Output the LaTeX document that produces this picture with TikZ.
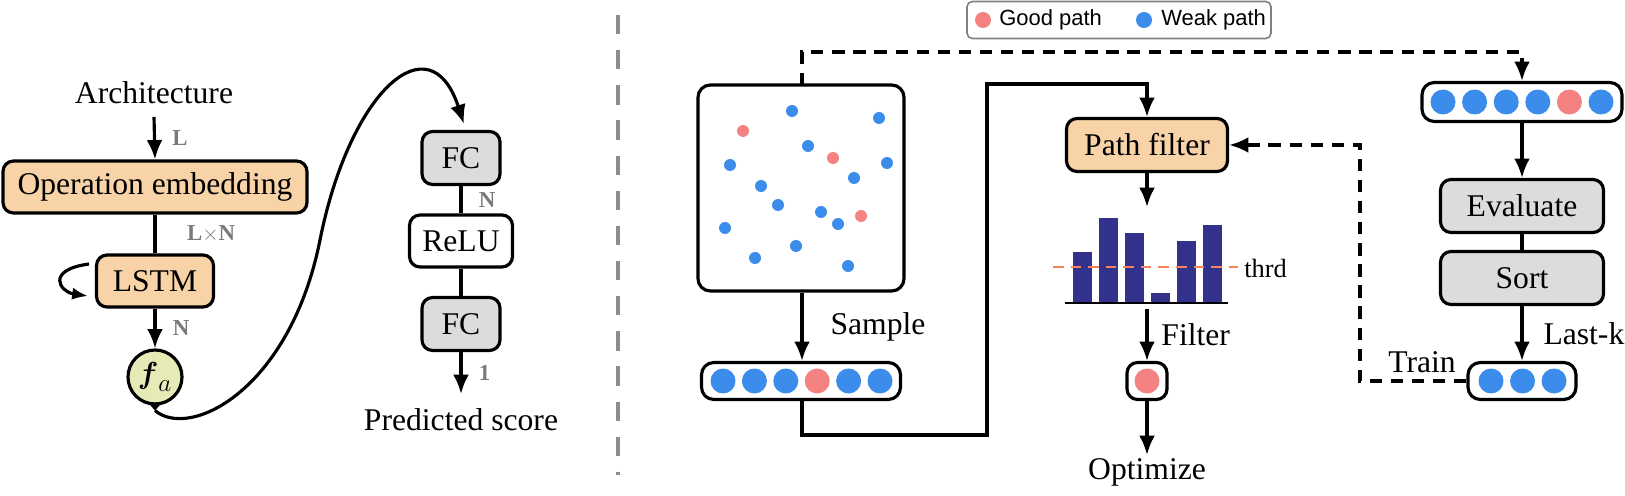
\documentclass[tikz,border=0pt]{standalone}
\usepackage{amsmath}
\usepackage{fontspec}
\setmainfont{Liberation Serif}
\newfontfamily\legendfont{Liberation Sans}
\usetikzlibrary{arrows.meta}
\definecolor{boxorange}{HTML}{F8D3A7}
\definecolor{boxgray}{HTML}{DCDCDC}
\definecolor{fagreen}{HTML}{E6EAB6}
\definecolor{goodred}{HTML}{F58282}
\definecolor{weakblue}{HTML}{3C8DEB}
\definecolor{barblue}{HTML}{32328C}
\definecolor{lblgray}{HTML}{7A7A7A}
\tikzset{
  blk/.style={draw, line width=1.8pt, rounded corners=6pt, font=\fontsize{18}{21}\selectfont, inner sep=0pt},
  dimlbl/.style={font=\fontsize{13}{15}\selectfont\bfseries, text=lblgray},
  txt/.style={font=\fontsize{18}{21}\selectfont},
  arr/.style={line width=1.8pt, -{Latex[length=11pt,width=9pt]}},
  ln/.style={line width=1.8pt},
  dsh/.style={line width=1.8pt, dash pattern=on 7pt off 5pt},
}
\begin{document}
\begin{tikzpicture}[x=0.02cm, y=-0.02cm]
\useasboundingbox (0,0) rectangle (1625,496);

    % Left: predictor
    \node[txt] (arch) at (154,93) {Architecture};
    \node[blk, fill=boxorange, minimum width=304*0.02cm, minimum height=52*0.02cm] (emb) at (155,187) {Operation embedding};
    \node[blk, fill=boxorange, minimum width=117*0.02cm, minimum height=52*0.02cm] (lstm) at (155,281) {LSTM};
    \node[draw, line width=1.8pt, circle, fill=fagreen, minimum size=54*0.02cm, inner sep=0pt, font=\fontsize{19}{21}\selectfont] (fa) at (155,377) {$\boldsymbol{f}_a$};
    \fill (fa.south) ++(-7,-3) -- ++(14,0) -- ++(-7,8) coordinate (pin) -- cycle;
    \draw[arr] (154,117) -- (emb.north) node[midway, right=6pt, dimlbl] {L};
    \draw[ln] (emb.south) -- (lstm.north) node[midway, right=14pt, dimlbl] {L$\times$N};
    \draw[arr] (lstm.south) -- (fa.north) node[midway, right=6pt, dimlbl] {N};
    \draw[line width=1.8pt, -{Latex[length=9pt,width=7pt]}] (89,264) .. controls (45,270) and (60,292) .. (88,296);

    \node[blk, fill=boxgray, minimum width=78*0.02cm, minimum height=53*0.02cm] (fc1) at (461,158) {FC};
    \node[blk, fill=white, minimum width=103*0.02cm, minimum height=52*0.02cm] (relu) at (461,241) {ReLU};
    \node[blk, fill=boxgray, minimum width=78*0.02cm, minimum height=53*0.02cm] (fc2) at (461,324) {FC};
    \node[txt] (score) at (461,420) {Predicted score};
    \draw[ln] (fc1.south) -- (relu.north) node[midway, right=6pt, dimlbl] {N};
    \draw[ln] (relu.south) -- (fc2.north);
    \draw[arr] (fc2.south) -- (461,394) node[midway, right=6pt, dimlbl] {1};
    \draw[arr] (pin) .. controls (190,440) and (290,390) .. (320,240)
                    .. controls (350,90) and (430,20) .. (464,124);

    % Separator
    \draw[line width=2pt, gray!90, dash pattern=on 11pt off 9pt] (618,15) -- (618,475);

    % Legend
    \node[draw=gray, rounded corners=3pt, line width=0.9pt, minimum width=304*0.02cm, minimum height=37*0.02cm] (legend) at (1119,20) {};
    \fill[goodred] (983,20) circle (8);
    \node[anchor=west, inner sep=0pt, font=\legendfont\fontsize{12.5}{14}\selectfont] (good) at (999,20) {Good path};
    \fill[weakblue] (1144,20) circle (8);
    \node[anchor=west, inner sep=0pt, font=\legendfont\fontsize{12.5}{14}\selectfont] (weak) at (1161,20) {Weak path};

    % Sample space
    \node[draw, line width=1.8pt, rounded corners=7pt, minimum width=206*0.02cm, minimum height=206*0.02cm] (space) at (801,188) {};
    \foreach \px/\py in {792/111,879/118,808/146,730/165,887/163,854/178,761/186,778/205,821/212,838/224,725/228,796/246,755/258,848/266}
        \fill[weakblue] (\px,\py) circle (6);
    \foreach \px/\py in {743/131,833/158,861/216}
        \fill[goodred] (\px,\py) circle (6);

    % Sampled paths
    \node[draw, line width=1.8pt, rounded corners=7pt, minimum width=199*0.02cm, minimum height=37*0.02cm] (sampled) at (801,381) {};
    \foreach \i/\c in {0/weakblue,1/weakblue,2/weakblue,3/goodred,4/weakblue,5/weakblue}
        \fill[\c] (723+\i*31.4,381) circle (12.5);
    \draw[arr] (space.south -| 802,0) -- (sampled.north -| 802,0) node[midway, right=12pt, txt] {Sample};

    % Path filter
    \node[blk, fill=boxorange, minimum width=161*0.02cm, minimum height=53*0.02cm] (filter) at (1147,145) {Path filter};
    \coordinate (chart) at (1147,207);
    \draw[arr] (filter.south) -- (chart);
    \foreach \i/\h in {0/252,1/218,2/233,3/293,4/241,5/225}
        \fill[barblue] (1073+\i*26,303) rectangle (1092+\i*26,\h);
    \draw[line width=1.2pt] (1065,303) -- (1228,303);
    \draw[goodred!70!orange, line width=0.9pt, dash pattern=on 6pt off 4pt] (1053,267) -- (1238,267);
    \node[anchor=west, inner sep=0pt, font=\fontsize{15}{17}\selectfont] (thrd) at (1244,268) {thrd};
    \node[draw, line width=1.8pt, rounded corners=6pt, minimum width=40*0.02cm, minimum height=37*0.02cm] (best) at (1147,381) {};
    \fill[goodred] (best) circle (12.5);
    \draw[arr] (1147,309) -- (best.north) node[midway, right=4pt, txt] {Filter};
    \node[txt] (opt) at (1147,472) {Optimize};
    \draw[arr] (best.south) -- (1147,455);
    \draw[arr] (sampled.south -| 802,0) |- (987,435) |- (1147,84) -- (filter.north);

    % Evaluation branch
    \node[draw, line width=1.8pt, rounded corners=7pt, minimum width=200*0.02cm, minimum height=39*0.02cm] (pool) at (1522,102) {};
    \foreach \i/\c in {0/weakblue,1/weakblue,2/weakblue,3/weakblue,4/goodred,5/weakblue}
        \fill[\c] (1443+\i*31.6,102) circle (12.5);
    \node[blk, fill=boxgray, minimum width=163*0.02cm, minimum height=53*0.02cm] (eval) at (1522,206) {Evaluate};
    \node[blk, fill=boxgray, minimum width=163*0.02cm, minimum height=53*0.02cm] (sort) at (1522,278) {Sort};
    \node[draw, line width=1.8pt, rounded corners=7pt, minimum width=108*0.02cm, minimum height=37*0.02cm] (last) at (1522,381) {};
    \foreach \i in {0,1,2}
        \fill[weakblue] (1491+\i*31.5,381) circle (12.5);
    \draw[arr] (pool.south) -- (eval.north);
    \draw[ln] (eval.south) -- (sort.north);
    \draw[arr] (sort.south) -- (last.north) node[midway, right=8pt, txt] {Last-k};
    \draw[dsh, -{Latex[length=11pt,width=9pt]}] (802,85) |- (1522,52) -- (pool.north);
    \draw[dsh, -{Latex[length=11pt,width=9pt]}] (last.west) -- (1360,381) |- (filter.east);
    \node[txt] (train) at (1422,362) {Train};
\end{tikzpicture}
\end{document}
